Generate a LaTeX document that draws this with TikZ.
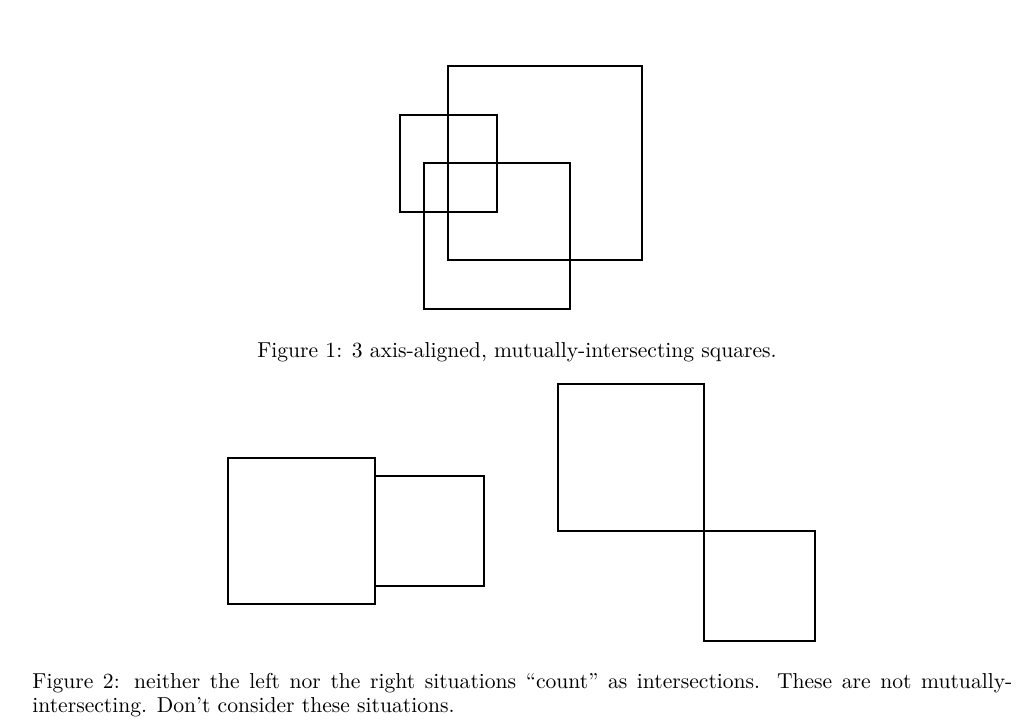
\documentclass[tikz,border=0pt]{standalone}
\begin{document}
\begin{tikzpicture}[x=0.5pt,y=-0.5pt,sq/.style={draw=black,line width=0.8pt},txt/.style={font=\fontsize{10.8}{12}\selectfont}]
\useasboundingbox (0,0) rectangle (1024,720);
\draw[sq] (448,66) rectangle (642,260);
\draw[sq] (400,115) rectangle (497,212);
\draw[sq] (424,163) rectangle (570,309);
\node[txt] (c1) at (517,352) {Figure 1: 3 axis-aligned, mutually-intersecting squares.};
\draw[sq] (228,458) rectangle (375,604);
\draw[sq] (375,476) rectangle (484,586);
\draw[sq] (558,384) rectangle (704,531);
\draw[sq] (704,531) rectangle (815,641);
\node[txt,anchor=north west,inner sep=0pt,text width=490pt,align=justify] (c2) at (32,673) {Figure 2: neither the left nor the right situations ``count'' as intersections. These are not mutually-intersecting. Don't consider these situations.};
\end{tikzpicture}
\end{document}
